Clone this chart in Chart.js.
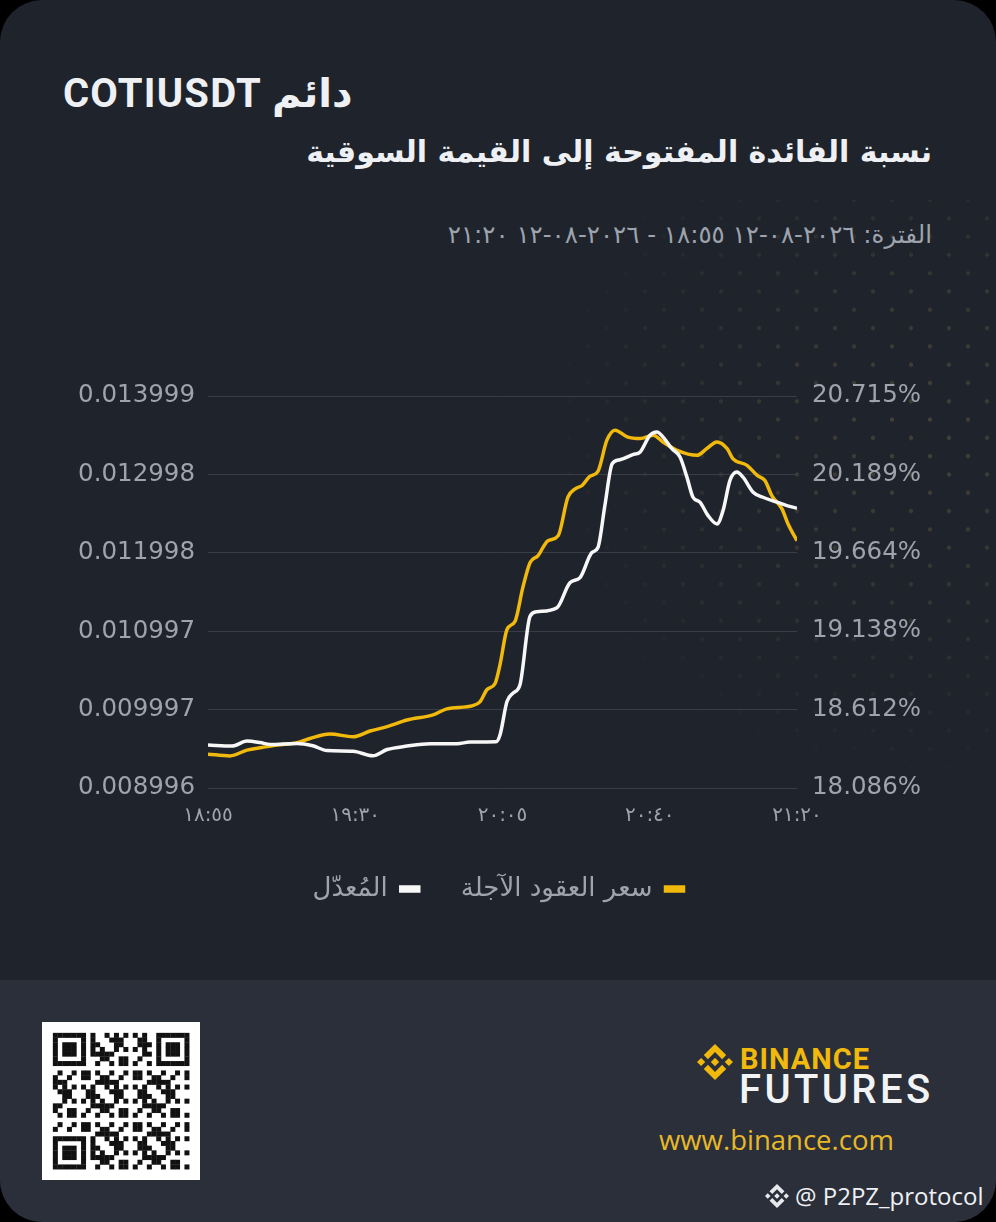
<!DOCTYPE html>
<html><head><meta charset="utf-8">
<script src="https://cdn.jsdelivr.net/npm/chart.js@4.4.1/dist/chart.umd.min.js"></script>
<style>
html,body{margin:0;padding:0;background:#000;width:996px;height:1222px;overflow:hidden}
#card{position:absolute;left:0;top:0;width:996px;height:1222px;background:#1f232c;border-radius:42px;overflow:hidden}
#dots{position:absolute;left:360px;top:200px;width:636px;height:620px;
 background-image:radial-gradient(circle,rgba(215,185,110,0.2) 1.8px,transparent 2.5px),radial-gradient(circle,rgba(215,185,110,0.2) 1.8px,transparent 2.5px);
 background-size:38px 36.6px;background-position:0 0,19px 18.3px;
 -webkit-mask-image:radial-gradient(ellipse 62% 58% at 88% 38%,#000 0%,rgba(0,0,0,.6) 45%,transparent 100%);
 mask-image:radial-gradient(ellipse 62% 58% at 88% 38%,#000 0%,rgba(0,0,0,.6) 45%,transparent 100%)}
#footer{position:absolute;left:0;top:980px;width:996px;height:242px;background:#2a2f3a}
.txt{position:absolute;white-space:nowrap}
#t1{left:63px;top:70px;font:bold 40px 'Roboto','DejaVu Sans',sans-serif;color:#eef0f3;letter-spacing:1.2px}
#t2{right:64px;top:134px;font:bold 30px 'DejaVu Sans',sans-serif;color:#eef0f3}
#t3{right:64px;top:220px;font:24.5px 'DejaVu Sans',sans-serif;color:#9ea3ad}
#chartbox{position:absolute;left:0;top:340px;width:996px;height:600px}
#qr{position:absolute;left:42px;top:1022px;width:158px;height:158px;background:#fff}
#logo{position:absolute;left:697px;top:1044px;width:36px;height:36px}
#binance{left:740px;top:1042px;font:bold 29px 'Roboto',sans-serif;color:#f0b90b;letter-spacing:1px}
#futures{left:739px;top:1066px;font:500 40px 'Roboto',sans-serif;color:#f2f3f5;letter-spacing:3.4px}
#www{left:659px;top:1121px;font:27.5px 'Open Sans',sans-serif;color:#e9b829}
#handle{left:795px;top:1179px;font:24px 'Open Sans',sans-serif;color:#eef0f3}
#hlogo{position:absolute;left:765px;top:1184px;width:24px;height:24px}
</style></head>
<body>
<div id="card">
  <div id="dots"></div>
  <div class="txt" id="t1" dir="rtl">دائم COTIUSDT</div>
  <div class="txt" id="t2" dir="rtl">نسبة الفائدة المفتوحة إلى القيمة السوقية</div>
  <div class="txt" id="t3" dir="rtl">الفترة: ٢٠٢٦-٠٨-١٢ ١٨:٥٥ - ٢٠٢٦-٠٨-١٢ ٢١:٢٠</div>
  <div id="chartbox"><canvas id="c"></canvas></div>
  <div id="footer"></div>
  <svg id="qr" viewBox="0 0 158 158"></svg>
  <svg id="logo" viewBox="0 0 126 126"><path fill="#F0B90B" d="M38.2 53L63 28.2 87.8 53l14.4-14.4L63 0 23.8 38.6zM0 63l14.4-14.4L28.8 63 14.4 77.4zM38.2 73L63 97.8 87.8 73l14.4 14.4L63 126 23.8 87.4zM97.2 63l14.4-14.4L126 63l-14.4 14.4zM77.6 63L63 48.4 52.2 59.2 51 60.4 48.4 63 63 77.6z"/></svg>
  <div class="txt" id="binance">BINANCE</div>
  <div class="txt" id="futures">FUTURES</div>
  <div class="txt" id="www">www.binance.com</div>
  <svg id="hlogo" viewBox="0 0 126 126"><path fill="#e8e9ec" d="M38.2 53L63 28.2 87.8 53l14.4-14.4L63 0 23.8 38.6zM0 63l14.4-14.4L28.8 63 14.4 77.4zM38.2 73L63 97.8 87.8 73l14.4 14.4L63 126 23.8 87.4zM97.2 63l14.4-14.4L126 63l-14.4 14.4zM77.6 63L63 48.4 52.2 59.2 51 60.4 48.4 63 63 77.6z"/></svg>
  <div class="txt" id="handle">@ P2PZ_protocol</div>
</div>
<script>
// ---- data ----
const seriesNames = ['سعر العقود الآجلة', 'المُعدّل'];
const xTickLabels = ['١٨:٥٥', '١٩:٣٠', '٢٠:٠٥', '٢٠:٤٠', '٢١:٢٠'];
const xTickMinutes = [0, 36.25, 72.5, 108.75, 145];
const leftTicks = [0.008996, 0.009997, 0.010997, 0.011998, 0.012998, 0.013999];
const rightTicks = [18.086, 18.612, 19.138, 19.664, 20.189, 20.715];

// minutes after 18:55
const futuresMinutes = [0, 5.4, 9.6, 13.3, 17.0, 21.9, 25.1, 30.0, 35.7, 39.9, 44.1, 49.0, 55.4, 58.8, 65.2, 67.0, 68.7, 70.7, 71.9, 73.6, 75.6, 77.5, 79.3, 81.2, 83.7, 86.2, 88.6, 90.4, 92.1, 94.0, 96.0, 98.2, 100.2, 103.2, 106.4, 109.6, 112.0, 115.5, 120.4, 122.8, 125.3, 127.8, 129.2, 132.7, 135.2, 137.1, 138.8, 141.3, 142.8, 145.0];
const futuresPrice = [0.009428, 0.009406, 0.009480, 0.009513, 0.009544, 0.009573, 0.009628, 0.009685, 0.009650, 0.009723, 0.009779, 0.009864, 0.009929, 0.010006, 0.010048, 0.010099, 0.010253, 0.010334, 0.010574, 0.011019, 0.011125, 0.011553, 0.011873, 0.011959, 0.012152, 0.012216, 0.012707, 0.012815, 0.012857, 0.012973, 0.013037, 0.013435, 0.013563, 0.013477, 0.013456, 0.013499, 0.013413, 0.013306, 0.013242, 0.013328, 0.013413, 0.013328, 0.013200, 0.013114, 0.012986, 0.012921, 0.012729, 0.012558, 0.012366, 0.012152];

const ratioMinutes = [0, 5.9, 9.6, 12.8, 15.3, 21.9, 25.8, 29.3, 35.7, 40.6, 44.1, 49.0, 54.7, 61.3, 64.5, 70.9, 71.9, 73.6, 75.1, 76.8, 79.3, 81.0, 85.9, 89.1, 91.6, 94.5, 96.0, 97.7, 99.5, 101.4, 104.6, 106.4, 108.8, 110.5, 112.0, 114.2, 116.2, 117.9, 119.4, 121.1, 123.1, 125.3, 126.8, 128.5, 130.2, 131.7, 134.2, 136.6, 140.1, 142.5, 145.0];
const ratioPercent = [18.374, 18.367, 18.401, 18.391, 18.378, 18.385, 18.369, 18.337, 18.333, 18.302, 18.344, 18.367, 18.383, 18.383, 18.394, 18.396, 18.443, 18.666, 18.722, 18.778, 19.239, 19.268, 19.295, 19.463, 19.497, 19.665, 19.699, 19.980, 20.261, 20.288, 20.322, 20.340, 20.452, 20.474, 20.441, 20.362, 20.306, 20.171, 20.036, 20.003, 19.913, 19.857, 19.947, 20.149, 20.205, 20.171, 20.070, 20.036, 20.003, 19.980, 19.962];

// ---- decorative QR-like block (not data) ----
(function(){
  const svg = document.getElementById('qr');
  const n = 29, m = 4.7, off = (158 - n*m)/2;
  let s = '';
  const finder = (r0,c0)=>{ for(let r=0;r<7;r++)for(let c=0;c<7;c++){ const edge=r===0||r===6||c===0||c===6; const core=r>=2&&r<=4&&c>=2&&c<=4; if(edge||core) s+=`<rect x="${off+(c0+c)*m}" y="${off+(r0+r)*m}" width="${m+0.3}" height="${m+0.3}"/>`; } };
  finder(0,0); finder(0,n-7); finder(n-7,0);
  for(let r=0;r<n;r++)for(let c=0;c<n;c++){
    const inF=(r<8&&c<8)||(r<8&&c>=n-8)||(r>=n-8&&c<8);
    if(inF) continue;
    if(((r*31+c*17+r*c*7)%11)<5) s+=`<rect x="${off+c*m}" y="${off+r*m}" width="${m+0.3}" height="${m+0.3}"/>`;
  }
  svg.innerHTML = '<g fill="#111">'+s+'</g>';
})();

// ---- chart ----
const tickColor = '#9ea3ad';
new Chart(document.getElementById('c'), {
  type: 'line',
  data: {
    datasets: [
      { label: seriesNames[1], yAxisID: 'y1', borderColor: '#f7f7f8', backgroundColor: '#f7f7f8',
        borderWidth: 3.5, pointRadius: 0, cubicInterpolationMode: 'monotone',
        data: ratioMinutes.map((m,i)=>({x:m, y:ratioPercent[i]})) },
      { label: seriesNames[0], yAxisID: 'y', borderColor: '#f0b90b', backgroundColor: '#f0b90b',
        borderWidth: 3.5, pointRadius: 0, cubicInterpolationMode: 'monotone',
        data: futuresMinutes.map((m,i)=>({x:m, y:futuresPrice[i]})) }
    ]
  },
  options: {
    responsive: true, maintainAspectRatio: false, animation: false,
    layout: { padding: { top: 56, bottom: 28, left: 0, right: 0 } },
    plugins: {
      tooltip: { enabled: false },
      legend: {
        position: 'bottom', rtl: true, textDirection: 'rtl', reverse: true,
        labels: { color: tickColor, boxWidth: 18, boxHeight: 4, padding: 42,
                  font: { size: 26, family: 'DejaVu Sans' } }
      }
    },
    scales: {
      x: {
        type: 'linear', min: 0, max: 145,
        grid: { display: false }, border: { display: false },
        afterBuildTicks: s => { s.ticks = xTickMinutes.map(v => ({ value: v })); },
        afterFit: s => { s.height = 46; },
        ticks: { autoSkip: false, maxRotation: 0, padding: 8, color: tickColor,
                 font: { size: 20, family: 'DejaVu Sans' },
                 callback: (v, i) => xTickLabels[i] }
      },
      y: {
        position: 'left', min: leftTicks[0], max: leftTicks[leftTicks.length-1],
        afterBuildTicks: s => { s.ticks = leftTicks.map(v => ({ value: v })); },
        afterFit: s => { s.width = 208; },
        grid: { color: '#383d48', lineWidth: 1, drawTicks: false }, border: { display: false },
        ticks: { padding: 13, color: tickColor, font: { size: 24.5, family: 'DejaVu Sans' },
                 callback: v => Number(v).toFixed(6) }
      },
      y1: {
        position: 'right', min: rightTicks[0], max: rightTicks[rightTicks.length-1],
        afterBuildTicks: s => { s.ticks = rightTicks.map(v => ({ value: v })); },
        afterFit: s => { s.width = 199; },
        grid: { display: false, drawTicks: false }, border: { display: false },
        ticks: { padding: 15, color: tickColor, font: { size: 24.5, family: 'DejaVu Sans' },
                 callback: v => Number(v).toFixed(3) + '%' }
      }
    }
  }
});
</script>
</body></html>
